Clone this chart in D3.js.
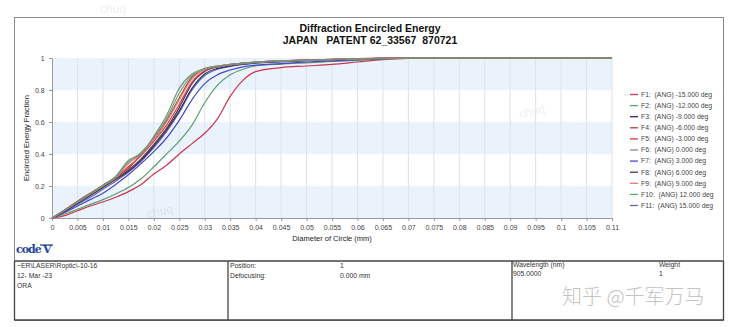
<!DOCTYPE html>
<html>
<head>
<meta charset="utf-8">
<script src="https://cdn.jsdelivr.net/npm/d3@7"></script>
<style>
  body { margin: 0; background: #fff; }
  svg { display: block; font-family: "Liberation Sans", Arial, sans-serif; }
</style>
</head>
<body>
<div id="chart"></div>
<script>
// diameters (mm) shared by every field
const diameters = [0, 0.0025, 0.005, 0.0075, 0.01, 0.0125, 0.015, 0.0175, 0.02, 0.0225, 0.025, 0.0275, 0.03,
  0.0325, 0.035, 0.0375, 0.04, 0.045, 0.05, 0.055, 0.06, 0.065, 0.07, 0.08, 0.09, 0.1, 0.11];

const fieldNames = ["F1: (ANG) -15.000 deg", "F2: (ANG) -12.000 deg", "F3: (ANG) -9.000 deg", "F4: (ANG) -6.000 deg",
  "F5: (ANG) -3.000 deg", "F6: (ANG) 0.000 deg", "F7: (ANG) 3.000 deg", "F8: (ANG) 6.000 deg",
  "F9: (ANG) 9.000 deg", "F10: (ANG) 12.000 deg", "F11: (ANG) 15.000 deg"];
const fieldColors = ["#cc3350", "#5f9e6e", "#2e2e70", "#a8403a", "#d83a48", "#7d8e80", "#4646cc", "#5c3434",
  "#e8777a", "#66aa66", "#6464a8"];

const f1 = [0, 0.015, 0.045, 0.075, 0.10, 0.13, 0.165, 0.21, 0.275, 0.33, 0.40, 0.465, 0.53, 0.62, 0.76, 0.86, 0.915, 0.94, 0.95, 0.96, 0.975, 0.99, 0.997, 1, 1, 1, 1];
const f2 = [0, 0.025, 0.055, 0.085, 0.115, 0.15, 0.19, 0.245, 0.32, 0.40, 0.48, 0.58, 0.72, 0.83, 0.895, 0.93, 0.95, 0.962, 0.97, 0.978, 0.985, 0.993, 1, 1, 1, 1, 1];
const f3 = [0, 0.04, 0.09, 0.14, 0.19, 0.24, 0.29, 0.36, 0.45, 0.55, 0.67, 0.81, 0.90, 0.935, 0.95, 0.962, 0.97, 0.978, 0.985, 0.99, 0.995, 0.998, 1, 1, 1, 1, 1];
const f4 = [0, 0.05, 0.105, 0.155, 0.205, 0.255, 0.31, 0.40, 0.50, 0.61, 0.75, 0.88, 0.93, 0.95, 0.96, 0.968, 0.975, 0.982, 0.987, 0.992, 0.996, 0.999, 1, 1, 1, 1, 1];
const f5 = [0, 0.045, 0.10, 0.15, 0.20, 0.25, 0.32, 0.39, 0.48, 0.58, 0.71, 0.85, 0.92, 0.945, 0.955, 0.965, 0.972, 0.98, 0.986, 0.99, 0.995, 0.998, 1, 1, 1, 1, 1];
const f6 = [0, 0.05, 0.10, 0.15, 0.205, 0.26, 0.36, 0.40, 0.51, 0.64, 0.81, 0.90, 0.935, 0.95, 0.96, 0.968, 0.975, 0.982, 0.987, 0.99, 0.995, 0.998, 1, 1, 1, 1, 1];
const f7 = [0, 0.035, 0.075, 0.115, 0.155, 0.21, 0.27, 0.34, 0.415, 0.50, 0.61, 0.74, 0.84, 0.895, 0.925, 0.945, 0.955, 0.965, 0.975, 0.982, 0.99, 0.996, 1, 1, 1, 1, 1];
const f8 = [0, 0.045, 0.095, 0.145, 0.195, 0.245, 0.30, 0.37, 0.46, 0.56, 0.69, 0.84, 0.915, 0.945, 0.958, 0.968, 0.975, 0.982, 0.987, 0.991, 0.995, 0.998, 1, 1, 1, 1, 1];
const f9 = [0, 0.05, 0.10, 0.15, 0.20, 0.25, 0.34, 0.40, 0.49, 0.60, 0.74, 0.87, 0.93, 0.95, 0.96, 0.968, 0.975, 0.982, 0.987, 0.991, 0.995, 0.998, 1, 1, 1, 1, 1];
const f10 = [0, 0.048, 0.098, 0.148, 0.20, 0.255, 0.35, 0.41, 0.50, 0.62, 0.78, 0.89, 0.93, 0.948, 0.958, 0.966, 0.973, 0.98, 0.986, 0.99, 0.995, 0.998, 1, 1, 1, 1, 1];
const f11 = [0, 0.04, 0.085, 0.13, 0.18, 0.23, 0.285, 0.355, 0.44, 0.54, 0.66, 0.80, 0.89, 0.93, 0.948, 0.96, 0.968, 0.976, 0.983, 0.99, 0.995, 0.998, 1, 1, 1, 1, 1];
const allFields = [f1, f2, f3, f4, f5, f6, f7, f8, f9, f10, f11];

const xTicks = d3.range(0, 23).map(i => +(i * 0.005).toFixed(3));
const yTicks = [0, 0.2, 0.4, 0.6, 0.8, 1];

const w = 737, h = 327;
const margin = { top: 58, left: 52, right: 125, bottom: 109 };

const svg = d3.select("#chart").append("svg")
  .attr("width", w)
  .attr("height", h);

// outer frame
svg.append("rect")
  .attr("x", 14.5).attr("y", 17.5)
  .attr("width", 709).attr("height", 303)
  .attr("fill", "none").attr("stroke", "#8a8a8a").attr("stroke-width", 1);

// title
svg.append("text").attr("x", 370).attr("y", 32).attr("text-anchor", "middle")
  .attr("font-size", 10.5).attr("font-weight", "bold").attr("fill", "#111")
  .text("Diffraction Encircled Energy");
svg.append("text").attr("x", 370).attr("y", 44).attr("text-anchor", "middle")
  .attr("font-size", 10.5).attr("font-weight", "bold").attr("fill", "#111")
  .attr("xml:space", "preserve")
  .text("JAPAN   PATENT 62_33567  870721");

const xScale = d3.scaleLinear().domain([0, 0.11]).range([margin.left, w - margin.right]);
const yScale = d3.scaleLinear().domain([0, 1]).range([h - margin.bottom, margin.top]);

// alternating bands
const bands = [[0, 0.2], [0.4, 0.6], [0.8, 1]];
svg.append("g").selectAll("rect")
  .data(bands).enter().append("rect")
  .attr("x", xScale(0)).attr("width", xScale(0.11) - xScale(0))
  .attr("y", d => yScale(d[1])).attr("height", d => yScale(d[0]) - yScale(d[1]))
  .attr("fill", "#eaf3fc");

// vertical grid
svg.append("g").selectAll("line")
  .data(xTicks.slice(1)).enter().append("line")
  .attr("x1", d => xScale(d)).attr("x2", d => xScale(d))
  .attr("y1", yScale(1)).attr("y2", yScale(0))
  .attr("stroke", "#dbe3ea").attr("stroke-width", 1);

// axes
const xAxis = d3.axisBottom(xScale).tickValues(xTicks).tickSize(3).tickSizeOuter(0)
  .tickFormat(d => d === 0 ? "0" : d3.format("")(d));
const xAxisG = svg.append("g")
  .attr("transform", `translate(0,${yScale(0)})`)
  .call(xAxis);
xAxisG.select(".domain").attr("stroke", "#999");
xAxisG.selectAll(".tick line").attr("stroke", "#999");
xAxisG.selectAll("text").attr("font-size", 7).attr("fill", "#444").attr("dy", "0.9em");

const yAxis = d3.axisLeft(yScale).tickValues(yTicks).tickSize(3).tickSizeOuter(0)
  .tickFormat(d => d3.format("")(d));
const yAxisG = svg.append("g")
  .attr("transform", `translate(${xScale(0)},0)`)
  .call(yAxis);
yAxisG.select(".domain").attr("stroke", "#999");
yAxisG.selectAll(".tick line").attr("stroke", "#999");
yAxisG.selectAll("text").attr("font-size", 7).attr("fill", "#444").attr("dx", "-0.2em");

// axis labels
svg.append("text").attr("x", 332).attr("y", 241).attr("text-anchor", "middle")
  .attr("font-size", 7.5).attr("fill", "#222").text("Diameter of Circle (mm)");
svg.append("text").attr("transform", "translate(29,138) rotate(-90)").attr("text-anchor", "middle")
  .attr("font-size", 7.5).attr("fill", "#222").text("Encircled Energy Fraction");

// curves
const line = d3.line()
  .x((d, i) => xScale(diameters[i]))
  .y(d => yScale(d))
  .curve(d3.curveMonotoneX);

// draw in an order so the outer curves sit under the cluster
const drawOrder = [0, 1, 6, 10, 2, 7, 3, 4, 8, 9, 5];
svg.append("g").selectAll("path")
  .data(drawOrder).enter().append("path")
  .attr("d", i => line(allFields[i]))
  .attr("fill", "none")
  .attr("stroke", i => fieldColors[i])
  .attr("stroke-width", 1.2);

// legend
const legend = svg.append("g").selectAll("g")
  .data(fieldNames).enter().append("g")
  .attr("transform", (d, i) => `translate(630,${94.5 + i * 11.1})`);
legend.append("line")
  .attr("x1", 0).attr("x2", 8)
  .attr("stroke", (d, i) => fieldColors[i]).attr("stroke-width", 1.3);
legend.append("text")
  .attr("x", 11).attr("dy", "0.35em")
  .attr("font-size", 6.8).attr("fill", "#444")
  .attr("xml:space", "preserve")
  .text(d => d.replace(": ", ":  "));

// code V logo
const logo = svg.append("g").attr("transform", "translate(16,253)");
logo.append("text").attr("x", 0).attr("y", 0)
  .attr("font-family", "'DejaVu Serif', serif").attr("font-size", 11).attr("font-weight", "bold")
  .attr("fill", "#23449a").attr("letter-spacing", -1).text("code");
logo.append("text").attr("x", 27).attr("y", 0)
  .attr("font-family", "'DejaVu Serif', serif").attr("font-size", 11).attr("font-weight", "bold")
  .attr("fill", "#23449a").text("V");
logo.append("line").attr("x1", 24).attr("x2", 37).attr("y1", -8).attr("y2", -8)
  .attr("stroke", "#23449a").attr("stroke-width", 1.2);

// info table
const tableTop = 261, tableBottom = 320;
const tableCols = [14.5, 228, 512, 723.5];
const table = svg.append("g");
table.append("line").attr("x1", 14.5).attr("x2", 723.5).attr("y1", tableTop).attr("y2", tableTop)
  .attr("stroke", "#444").attr("stroke-width", 1.3);
table.append("line").attr("x1", 14.5).attr("x2", 723.5).attr("y1", tableBottom).attr("y2", tableBottom)
  .attr("stroke", "#444").attr("stroke-width", 1.3);
table.selectAll(".col").data(tableCols).enter().append("line")
  .attr("x1", d => d).attr("x2", d => d).attr("y1", tableTop).attr("y2", tableBottom)
  .attr("stroke", "#444").attr("stroke-width", 1.3);

const infoTexts = [
  { x: 17, y: 268, t: "~ER\\LASER\\Roptic\\-10-16" },
  { x: 17, y: 278, t: "12- Mar -23" },
  { x: 17, y: 288, t: "ORA" },
  { x: 230, y: 268, t: "Position:" },
  { x: 340, y: 268, t: "1" },
  { x: 230, y: 278, t: "Defocusing:" },
  { x: 340, y: 278, t: "0.000 mm" },
  { x: 513, y: 267, t: "Wavelength (nm)" },
  { x: 659, y: 267, t: "Weight" },
  { x: 513, y: 276, t: "905.0000" },
  { x: 659, y: 276, t: "1" }
];
table.selectAll(".info").data(infoTexts).enter().append("text")
  .attr("x", d => d.x).attr("y", d => d.y)
  .attr("font-size", 6.8).attr("fill", "#333")
  .text(d => d.t);

// watermarks
svg.append("text").attr("x", 562).attr("y", 304)
  .attr("font-family", "'Noto Sans CJK SC', sans-serif").attr("font-size", 20)
  .attr("font-weight", 300).attr("fill", "#c4c4c4").attr("xml:space", "preserve")
  .text("知乎 @千军万马");
const faint = [{ x: 100, y: 13, r: 0 }, { x: 520, y: 118, r: -12 }, { x: 148, y: 218, r: -12 }];
svg.selectAll(".wm").data(faint).enter().append("text")
  .attr("transform", d => `translate(${d.x},${d.y}) rotate(${d.r})`)
  .attr("font-size", 12).attr("fill", "#000").attr("opacity", 0.06)
  .text("chuq");
</script>
</body>
</html>
